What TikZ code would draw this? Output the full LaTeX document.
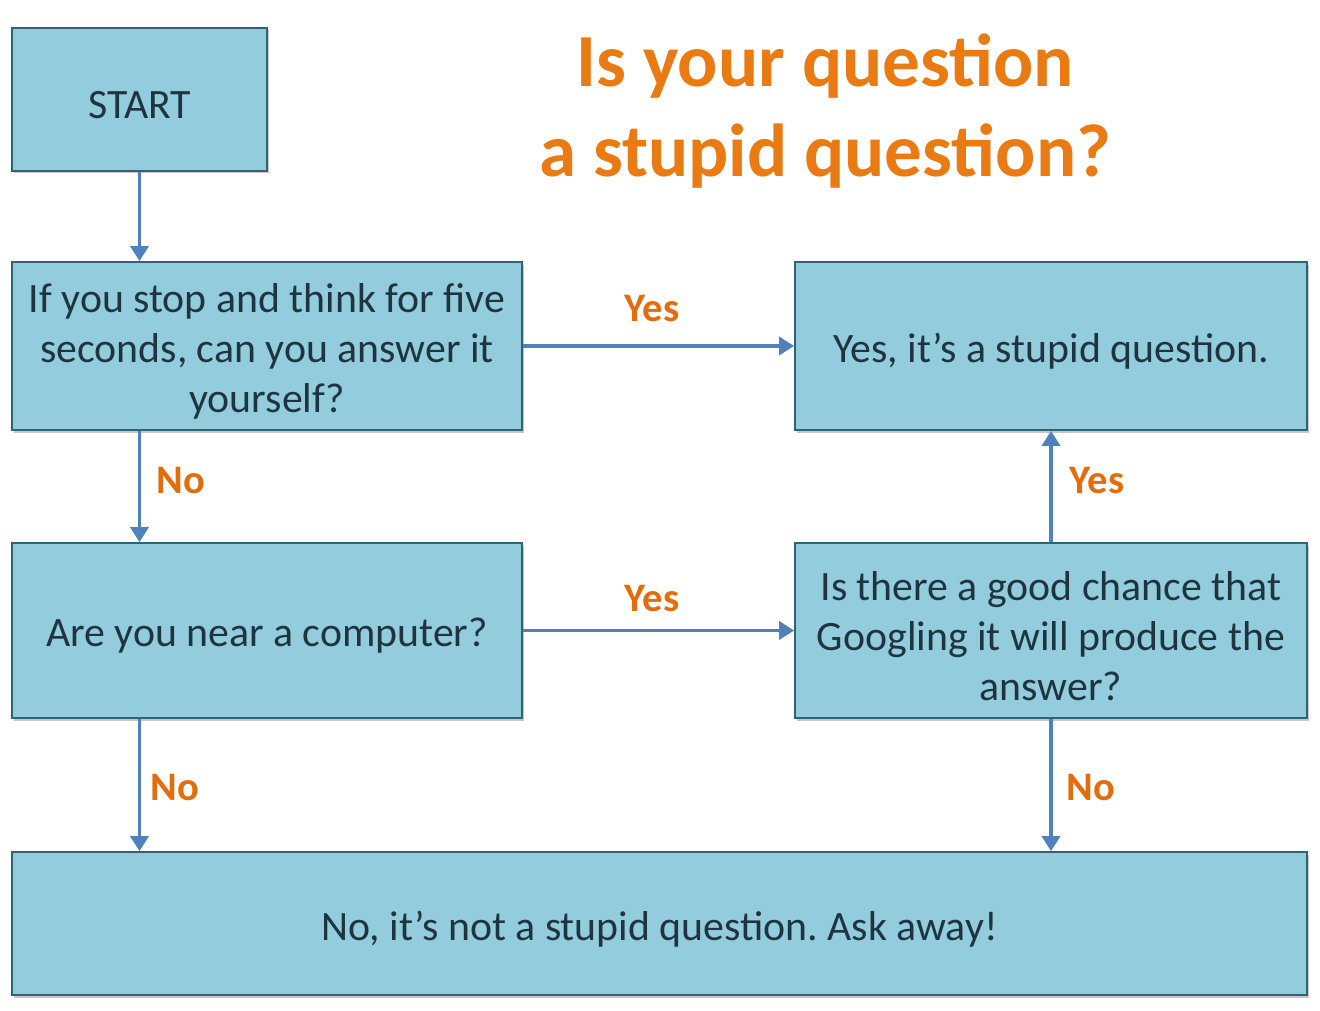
\documentclass[tikz,border=0pt]{standalone}
\usepackage{fontspec}
\setmainfont{Carlito}
\usetikzlibrary{arrows.meta,shadows}
\definecolor{boxfill}{HTML}{93CDDD}
\definecolor{boxline}{HTML}{2F6474}
\definecolor{arrowc}{HTML}{4F81BD}
\definecolor{orangec}{HTML}{E46C0A}
\definecolor{titlec}{HTML}{EA7A12}
\definecolor{boxtext}{HTML}{1E3540}
\frenchspacing
\begin{document}
\begin{tikzpicture}[x=1pt,y=-1pt,
  box/.style={draw=boxline,line width=1.8pt,fill=boxfill,inner sep=0pt,
    drop shadow={shadow xshift=2pt,shadow yshift=-2.5pt,opacity=0.3,fill=black!70}},
  btext/.style={align=center,text=boxtext,inner sep=0pt,font=\fontsize{41.8}{50}\selectfont},
  conn/.style={draw=arrowc,line width=3.6pt,-{Triangle[length=15pt,width=18pt]}},
  lab/.style={text=orangec,font=\bfseries\fontsize{40.5}{44}\selectfont,inner sep=0pt},
  ttl/.style={text=titlec,font=\bfseries\fontsize{75}{90}\selectfont,align=center,inner sep=0pt}]
\useasboundingbox[fill=white] (0,0) rectangle (1320,1011);
\node[box,minimum width=255pt,minimum height=143pt] (start) at (139.5,99.5) {};
\node[btext] (tstart) at (139.5,105) {START};
\node[box,minimum width=510pt,minimum height=168pt] (q1) at (267,346) {};
\node[btext] (tq1) at (267,351.5) {If you stop and think for five\\seconds, can you answer it\\yourself?};
\node[box,minimum width=512pt,minimum height=168pt] (yes) at (1051,346) {};
\node[btext] (tyes) at (1051,351.5) {Yes, it’s a stupid question.};
\node[box,minimum width=510pt,minimum height=175pt] (q2) at (267,630.5) {};
\node[btext] (tq2) at (267,636) {Are you near a computer?};
\node[box,minimum width=512pt,minimum height=175pt] (q3) at (1051,630.5) {};
\node[btext] (tq3) at (1051,636) {Is there a good chance that\\Googling it will produce the\\answer?};
\node[box,minimum width=1295pt,minimum height=143pt] (no) at (659.5,923.5) {};
\node[btext] (tno) at (659.5,929) {No, it’s not a stupid question. Ask away!};
\node[ttl] (title) at (825,111) {Is your question\\a stupid question?};
\draw[conn] (start.south) -- (start.south |- q1.north);
\draw[conn] (q1.south -| start.south) -- (q2.north -| start.south);
\draw[conn] (q2.south -| start.south) -- (no.north -| start.south);
\draw[conn] (q1.east) -- (yes.west);
\draw[conn] (q2.east) -- (q3.west);
\draw[conn] (q3.north) -- (yes.south);
\draw[conn] (q3.south) -- (no.north -| q3.south);
\node[lab] (l1) at (652,309) {Yes};
\node[lab] (l2) at (181,481) {No};
\node[lab] (l3) at (652,599) {Yes};
\node[lab] (l4) at (1097,481) {Yes};
\node[lab] (l5) at (175,788) {No};
\node[lab] (l6) at (1091,788) {No};
\end{tikzpicture}
\end{document}
